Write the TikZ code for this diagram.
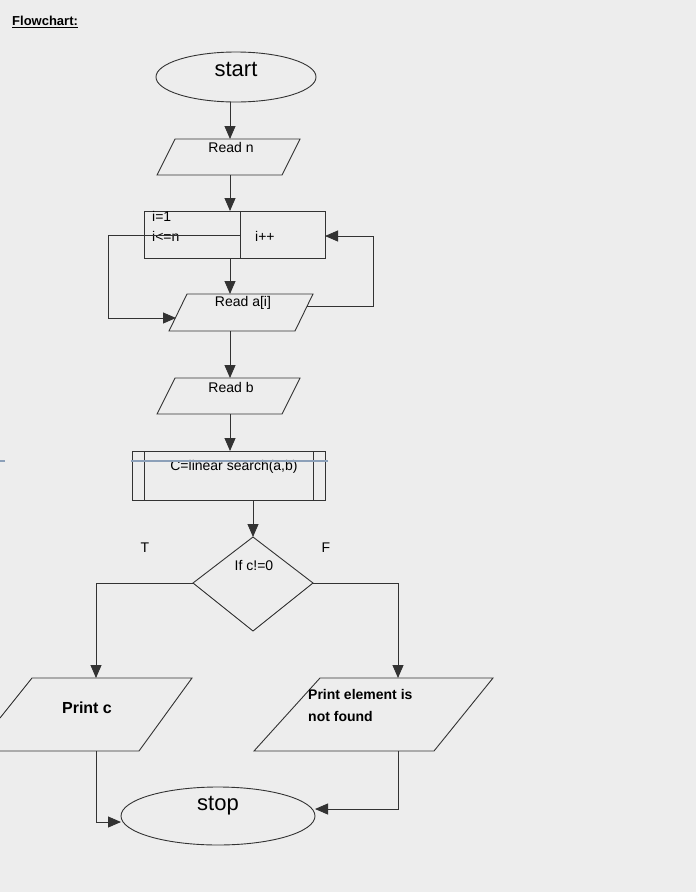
\documentclass[tikz,border=0pt]{standalone}
\usepackage{fontspec}
\setmainfont{Liberation Sans}
\usetikzlibrary{arrows.meta}
\begin{document}
\begin{tikzpicture}[x=1pt,y=-1pt,
  sh/.style={draw=black!80,line width=0.9pt},
  ar/.style={draw=black!80,line width=0.9pt,-{Triangle[length=13pt,width=11pt]}},
  ln/.style={draw=black!80,line width=0.9pt},
  tx/.style={inner sep=0pt,font=\fontsize{14}{15}\selectfont}]
\fill[black!7] (0,0) rectangle (696,892);
\useasboundingbox (0,0) rectangle (696,892);
\node[anchor=west,inner sep=0pt,font=\bfseries\fontsize{13}{14}\selectfont] (title) at (12,22) {\underline{Flowchart:}};
% start
\draw[sh] (236,77) ellipse (80 and 25);
\node[inner sep=0pt,font=\fontsize{22}{23}\selectfont] (start) at (236,69) {start};
% read n
\draw[sh] (175,139)--(300,139)--(282,175)--(157,175)--cycle;
\node[tx] (readn) at (231,147) {Read n};
\draw[ar] (230,102)--(230,139);
% loop
\draw[sh] (144,211) rectangle (325,258);
\draw[ln] (240,211)--(240,258);
\node[tx,anchor=west] (i1) at (152,216) {i=1};
\node[tx,anchor=west] (ile) at (152,236) {i<=n};
\node[tx,anchor=west] (ipp) at (255,236) {i++};
\draw[ar] (230,175)--(230,211);
\draw[ar] (230,258)--(230,294);
% read a[i]
\draw[sh] (187,294)--(313,294)--(295,331)--(169,331)--cycle;
\node[tx] (reada) at (243,303) {Read a[i]};
\draw[ar] (240,235)--(108,235)--(108,318)--(176,318);
\draw[ar] (307,306)--(373,306)--(373,236)--(325,236);
\draw[ar] (230,331)--(230,378);
% read b
\draw[sh] (175,378)--(300,378)--(282,414)--(157,414)--cycle;
\node[tx] (readb) at (231,387) {Read b};
\draw[ar] (230,414)--(230,451);
% predefined
\draw[sh] (132,451) rectangle (325,500);
\draw[ln] (144,451)--(144,500) (313,451)--(313,500);
\node[tx] (lin) at (234,467) {C=linear search(a,b)};
\draw[draw={rgb,255:red,140;green,160;blue,185},line width=2pt] (131,461)--(328,461);
\draw[draw={rgb,255:red,140;green,160;blue,185},line width=1.5pt] (0,461)--(5,461);
\draw[ar] (253,500)--(253,537);
% diamond
\draw[sh] (253,537)--(313,583)--(253,631)--(193,583)--cycle;
\node[tx] (dec) at (254,565) {If c!=0};
\node[tx] (T) at (145,548) {T};
\node[tx] (F) at (326,548) {F};
\draw[ar] (193,583)--(96,583)--(96,678);
\draw[ar] (313,583)--(398,583)--(398,678);
% print c
\draw[sh] (0,718)--(32,678)--(192,678)--(139,751)--(0,751);
\node[tx,font=\bfseries\fontsize{16}{17}\selectfont] (pc) at (87,708) {Print c};
% print not found
\draw[sh] (320,678)--(493,678)--(434,751)--(254,751)--cycle;
\node[tx,anchor=west,font=\bfseries\fontsize{14}{15}\selectfont] (pe1) at (308,694) {Print element is};
\node[tx,anchor=west,font=\bfseries\fontsize{14}{15}\selectfont] (pe2) at (308,716) {not found};
% stop
\draw[sh] (218,816) ellipse (97 and 29);
\node[inner sep=0pt,font=\fontsize{22}{23}\selectfont] (stop) at (218,806) {stop};
\draw[ar] (96,751)--(96,822)--(121,822);
\draw[ar] (398,751)--(398,809)--(315,809);
\end{tikzpicture}
\end{document}
